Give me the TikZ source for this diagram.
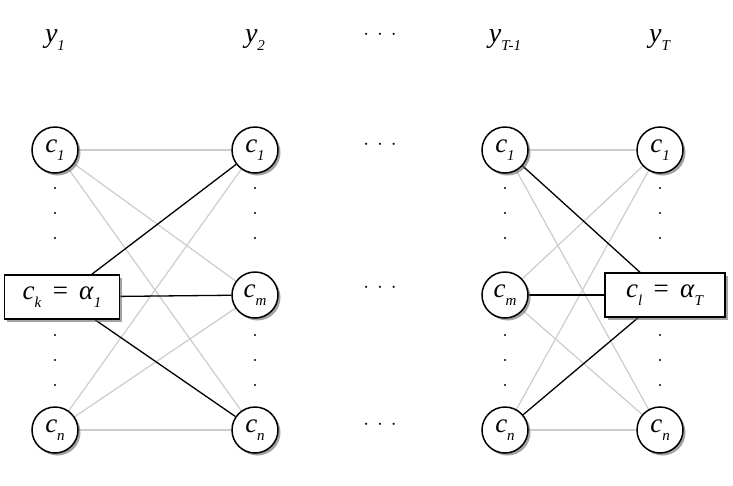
\documentclass[tikz,border=0pt]{standalone}
\usepackage{fontspec}
\setmainfont{Liberation Serif}
\usetikzlibrary{shadows,backgrounds}
\newcommand{\vv}[2]{\textit{#1}\raisebox{-0.6ex}{\fontsize{15}{15}\selectfont\textit{#2}}}
\begin{document}
\begin{tikzpicture}[x=1pt,y=-1pt,
  st/.style={circle,draw,line width=1.5pt,fill=white,minimum size=46pt,inner sep=0pt,font=\fontsize{27}{27}\selectfont,drop shadow={shadow xshift=2.5pt,shadow yshift=-2.5pt,opacity=0.6,fill=black!60}},
  bx/.style={rectangle,draw,line width=1.5pt,fill=white,minimum height=44pt,font=\fontsize{27}{27}\selectfont,drop shadow={shadow xshift=2.5pt,shadow yshift=-2.5pt,opacity=0.6,fill=black!60}},
  lab/.style={font=\fontsize{28}{28}\selectfont},
  g/.style={gray!40,line width=1.2pt},
  b/.style={black,line width=1.3pt},
  dt/.style={font=\fontsize{20}{20}\selectfont}]
\useasboundingbox (0,0) rectangle (733,485);
\node[lab] (y1) at (55,40) {\vv{y}{1}};
\node[lab] (y2) at (255,40) {\vv{y}{2}};
\node[dt] (h0) at (380,35) {$\cdot\,\cdot\,\cdot$};
\node[lab] (y3) at (505,40) {\vv{y}{T-1}};
\node[lab] (y4) at (660,40) {\vv{y}{T}};
\node[st] (a1) at (55,150) {\vv{c}{1}};
\node[st] (an) at (55,430) {\vv{c}{n}};
\node[bx,minimum width=115pt] (ak) at (62,297) {\vv{c}{k}\, =\, \textit{α}\raisebox{-0.6ex}{\fontsize{15}{15}\selectfont\textit{1}}};
\node[st] (b1) at (255,150) {\vv{c}{1}};
\node[st] (bm) at (255,295) {\vv{c}{m}};
\node[st] (bn) at (255,430) {\vv{c}{n}};
\node[st] (c1) at (505,150) {\vv{c}{1}};
\node[st] (cm) at (505,295) {\vv{c}{m}};
\node[st] (cn) at (505,430) {\vv{c}{n}};
\node[st] (d1) at (660,150) {\vv{c}{1}};
\node[st] (dn) at (660,430) {\vv{c}{n}};
\node[bx,minimum width=120pt] (dl) at (665,295) {\vv{c}{l}\, =\, \textit{α}\raisebox{-0.6ex}{\fontsize{15}{15}\selectfont\textit{T}}};
\node[dt] (h1) at (380,145) {$\cdot\,\cdot\,\cdot$};
\node[dt] (h2) at (380,288) {$\cdot\,\cdot\,\cdot$};
\node[dt] (h3) at (380,425) {$\cdot\,\cdot\,\cdot$};
\begin{scope}[on background layer]
\foreach \s in {a1,an} \foreach \t in {b1,bm,bn} \draw[g] (\s) -- (\t);
\foreach \t in {b1,bm,bn} \draw[b] (ak) -- (\t);
\foreach \s in {c1,cm,cn} \foreach \t in {d1,dn} \draw[g] (\s) -- (\t);
\foreach \s in {c1,cm,cn} \draw[b] (\s) -- (dl);
\end{scope}
\foreach \x in {55,255,505,660} {
  \foreach \y in {188,213,238} \fill (\x,\y) circle (1.2pt);
  \foreach \y in {335,360,385} \fill (\x,\y) circle (1.2pt);
}
\end{tikzpicture}
\end{document}
